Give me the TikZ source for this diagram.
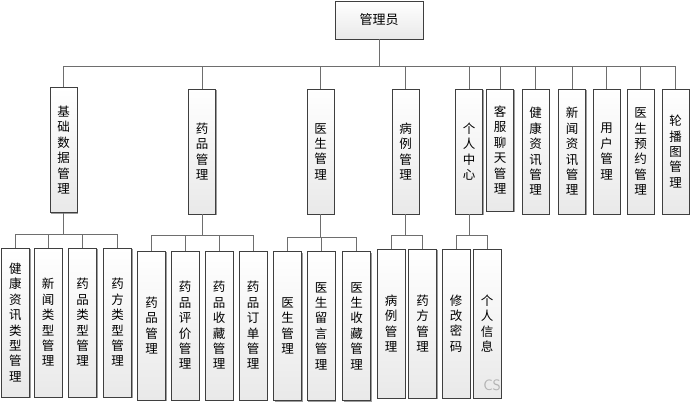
\documentclass[tikz,border=0pt]{standalone}
\usepackage{fontspec}
\setmainfont{Noto Sans CJK SC}
\usetikzlibrary{shadows}
\definecolor{edge}{HTML}{3F3F3F}
\definecolor{shade}{HTML}{9C9C9C}
\definecolor{link}{HTML}{6E6E6E}
\definecolor{boxbot}{HTML}{E9E9E9}

\begin{document}
\begin{tikzpicture}[x=1pt,y=-1pt,
      box/.style={draw=edge,line width=.8pt,top color=white,bottom color=boxbot,
                  drop shadow={shadow xshift=1.3pt,shadow yshift=-1.3pt,fill=shade,opacity=1},
                  inner sep=0pt,text width=13pt,align=center,
                  font=\fontsize{12.5}{15.4}\selectfont},
      mod/.style={box,minimum width=27pt,minimum height=125pt},
      leaf/.style={box,minimum width=28pt,minimum height=149pt},
      wire/.style={draw=link,line width=1pt}]
    \useasboundingbox (0,0) rectangle (692,403);
    % root
    \node[box,text width=80pt,minimum width=88pt,minimum height=38pt,
          font=\fontsize{13}{15}\selectfont] (admin) at (379,20) {管理员};
    % first level
    \node[mod] (base) at (63.5,150) {基\\础\\数\\据\\管\\理};
    \node[mod] (drug) at (202,151.5) {药\\品\\管\\理};
    \node[mod] (doctor) at (320.5,151.5) {医\\生\\管\\理};
    \node[mod] (case) at (405.5,151.5) {病\\例\\管\\理};
    \node[mod] (person) at (469,151.5) {个\\人\\中\\心};
    \node[mod,minimum height=122pt] (chat) at (500,150) {客\\服\\聊\\天\\管\\理};
    \node[mod] (health) at (535.5,151.5) {健\\康\\资\\讯\\管\\理};
    \node[mod] (news) at (572,151.5) {新\\闻\\资\\讯\\管\\理};
    \node[mod] (user) at (606.5,151.5) {用\\户\\管\\理};
    \node[mod] (booking) at (640.5,151.5) {医\\生\\预\\约\\管\\理};
    \node[mod] (banner) at (675.5,151.5) {轮\\播\\图\\管\\理};
    \draw[wire] (admin.south) -- ++(0,27) -| (base.north);
    \draw[wire] (admin.south) -- ++(0,27) -| (drug.north);
    \draw[wire] (admin.south) -- ++(0,27) -| (doctor.north);
    \draw[wire] (admin.south) -- ++(0,27) -| (case.north);
    \draw[wire] (admin.south) -- ++(0,27) -| (person.north);
    \draw[wire] (admin.south) -- ++(0,27) -| (chat.north);
    \draw[wire] (admin.south) -- ++(0,27) -| (health.north);
    \draw[wire] (admin.south) -- ++(0,27) -| (news.north);
    \draw[wire] (admin.south) -- ++(0,27) -| (user.north);
    \draw[wire] (admin.south) -- ++(0,27) -| (booking.north);
    \draw[wire] (admin.south) -- ++(0,27) -| (banner.north);
    % second level
    \node[leaf] (healthtype) at (15.5,322.5) {健\\康\\资\\讯\\类\\型\\管\\理};
    \node[leaf] (newstype) at (48,322.5) {新\\闻\\类\\型\\管\\理};
    \node[leaf] (drugtype) at (82.5,322.5) {药\\品\\类\\型\\管\\理};
    \node[leaf] (rxtype) at (117.5,322.5) {药\\方\\类\\型\\管\\理};
    \draw[wire] (base.south) -- ++(0,22) -| (healthtype.north);
    \draw[wire] (base.south) -- ++(0,22) -| (newstype.north);
    \draw[wire] (base.south) -- ++(0,22) -| (drugtype.north);
    \draw[wire] (base.south) -- ++(0,22) -| (rxtype.north);
    \node[leaf] (druglist) at (151.5,325.5) {药\\品\\管\\理};
    \node[leaf] (drugrate) at (185,325.5) {药\\品\\评\\价\\管\\理};
    \node[leaf] (drugfav) at (219,325.5) {药\\品\\收\\藏\\管\\理};
    \node[leaf] (drugorder) at (253,325.5) {药\\品\\订\\单\\管\\理};
    \draw[wire] (drug.south) -- ++(0,21) -| (druglist.north);
    \draw[wire] (drug.south) -- ++(0,21) -| (drugrate.north);
    \draw[wire] (drug.south) -- ++(0,21) -| (drugfav.north);
    \draw[wire] (drug.south) -- ++(0,21) -| (drugorder.north);
    \node[leaf] (doclist) at (287.5,326) {医\\生\\管\\理};
    \node[leaf] (docmsg) at (321,326) {医\\生\\留\\言\\管\\理};
    \node[leaf] (docfav) at (356.5,326) {医\\生\\收\\藏\\管\\理};
    \draw[wire] (doctor.south) -- ++(0,23) -| (doclist.north);
    \draw[wire] (doctor.south) -- ++(0,23) -| (docmsg.north);
    \draw[wire] (doctor.south) -- ++(0,23) -| (docfav.north);
    \node[leaf] (caselist) at (391,323.5) {病\\例\\管\\理};
    \node[leaf] (rxlist) at (422.5,323.5) {药\\方\\管\\理};
    \draw[wire] (case.south) -- ++(0,21) -| (caselist.north);
    \draw[wire] (case.south) -- ++(0,21) -| (rxlist.north);
    \node[leaf] (passwd) at (456,323.5) {修\\改\\密\\码};
    \node[leaf] (profile) at (487,323.5) {个\\人\\信\\息};
    \draw[wire] (person.south) -- ++(0,21) -| (passwd.north);
    \draw[wire] (person.south) -- ++(0,21) -| (profile.north);
    % watermark
    \node[anchor=east,inner sep=0pt,text=black!30,
          font=\fontfamily{lmss}\fontsize{15}{15}\selectfont] (mark) at (501,385) {CS};
\end{tikzpicture}
\end{document}
